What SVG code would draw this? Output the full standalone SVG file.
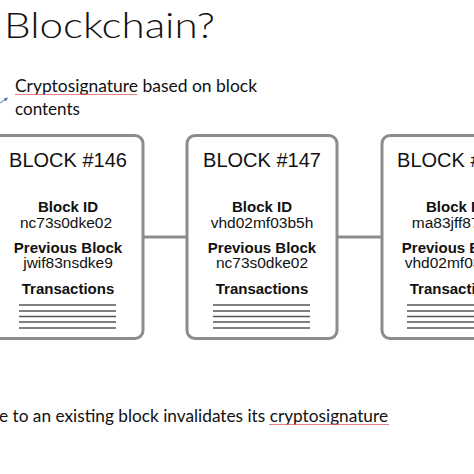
<svg xmlns="http://www.w3.org/2000/svg" width="474" height="474" viewBox="0 0 474 474">
<defs>
<style>
.box{fill:#fff;stroke:#8c8c8c;stroke-width:3}
.conn{stroke:#8c8c8c;stroke-width:3;fill:none}
.hd{font-family:"Liberation Sans",Arial,sans-serif;font-size:20px;fill:#111;text-anchor:middle}
.lb{font-family:"Liberation Sans",Arial,sans-serif;font-size:15px;font-weight:bold;fill:#111;text-anchor:middle}
.vl{font-family:"Liberation Sans",Arial,sans-serif;font-size:15.5px;fill:#111;text-anchor:middle}
.tx{stroke:#555;stroke-width:1.6}
.body{font-family:Lato,"Open Sans",sans-serif;font-size:18px;fill:#111}
.wavy{fill:none;stroke:#e06060;stroke-width:0.8}
</style>
<pattern id="wv" width="4" height="3" patternUnits="userSpaceOnUse">
<path d="M0 2 L1 1 L2 2 L3 1 L4 2" class="wavy"/>
</pattern>
<g id="lines">
<line class="tx" x1="-49" y1="305" x2="48" y2="305"/>
<line class="tx" x1="-49" y1="311" x2="48" y2="311"/>
<line class="tx" x1="-49" y1="316.5" x2="48" y2="316.5"/>
<line class="tx" x1="-49" y1="322" x2="48" y2="322"/>
<line class="tx" x1="-49" y1="328" x2="48" y2="328"/>
</g>
</defs>
<rect width="474" height="474" fill="#fff"/>
<text x="4" y="38" font-family="Lato,'Open Sans',sans-serif" font-weight="300" font-size="36" fill="#111" textLength="211" lengthAdjust="spacingAndGlyphs">Blockchain?</text>
<g id="bullet">
<path d="M0 103 L6 99" stroke="#4a78b5" stroke-width="1"/>
<path d="M8 97.5 L3.5 98.5 L6 101.5 Z" fill="#4a78b5"/>
</g>
<text class="body" x="15" y="92" textLength="242" lengthAdjust="spacingAndGlyphs">Cryptosignature based on block</text>
<rect x="15" y="94" width="122" height="3" fill="url(#wv)"/>
<text class="body" x="15" y="115" textLength="65" lengthAdjust="spacingAndGlyphs">contents</text>
<g id="connectors">
<line class="conn" x1="143" y1="237" x2="187" y2="237"/>
<line class="conn" x1="337" y1="237" x2="382" y2="237"/>
</g>
<g id="block146">
<rect class="box" x="-7" y="135.5" width="150" height="203" rx="8"/>
<text class="hd" x="68" y="167">BLOCK #146</text>
<text class="lb" x="68" y="212">Block ID</text>
<text class="vl" x="66" y="228">nc73s0dke02</text>
<text class="lb" x="68" y="253">Previous Block</text>
<text class="vl" x="68" y="268">jwif83nsdke9</text>
<text class="lb" x="68" y="294">Transactions</text>
<use href="#lines" x="68"/>
</g>
<g id="block147">
<rect class="box" x="187" y="135.5" width="150" height="203" rx="8"/>
<text class="hd" x="262" y="167">BLOCK #147</text>
<text class="lb" x="262" y="212">Block ID</text>
<text class="vl" x="262" y="228">vhd02mf03b5h</text>
<text class="lb" x="262" y="253">Previous Block</text>
<text class="vl" x="262" y="268">nc73s0dke02</text>
<text class="lb" x="262" y="294">Transactions</text>
<use href="#lines" x="262"/>
</g>
<g id="block148">
<rect class="box" x="382" y="135.5" width="150" height="203" rx="8"/>
<text class="hd" x="456" y="167">BLOCK #148</text>
<text class="lb" x="456" y="212">Block ID</text>
<text class="vl" x="456" y="228">ma83jff87jd3</text>
<text class="lb" x="456" y="253">Previous Block</text>
<text class="vl" x="456" y="268">vhd02mf03b5h</text>
<text class="lb" x="456" y="294">Transactions</text>
<use href="#lines" x="456"/>
</g>
<text class="body" x="-1" y="422" textLength="389" lengthAdjust="spacingAndGlyphs">e to an existing block invalidates its cryptosignature</text>
<rect x="269" y="424" width="120" height="3" fill="url(#wv)"/>
</svg>
